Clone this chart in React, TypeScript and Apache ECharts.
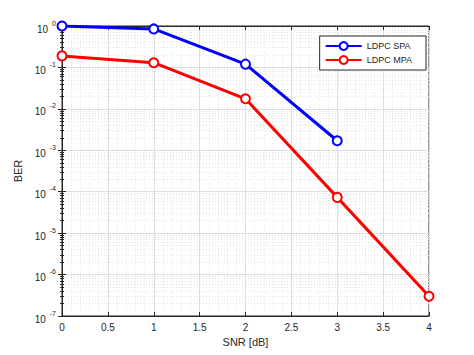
import React, { useEffect, useRef } from "react";
import * as echarts from "echarts";

const snr = [0, 1, 2, 3, 4];
const berSPA = [1.0, 0.85, 0.12, 0.0017];
const berMPA = [0.19, 0.13, 0.0175, 7.3e-5, 3.0e-7];
const seriesNames = ["LDPC SPA", "LDPC MPA"];

export default function App() {
  const ref = useRef<HTMLDivElement>(null);
  useEffect(() => {
    const chart = echarts.init(ref.current!, null, { renderer: "svg" });
    const txt = "#262626";
    const xBase = {
      type: "value",
      min: 0,
      max: 4,
      interval: 0.5,
      axisLine: { lineStyle: { color: txt } },
      axisTick: { inside: true, length: 4, lineStyle: { color: txt } },
    };
    const yBase = {
      type: "log",
      logBase: 10,
      min: 1e-7,
      max: 1,
      axisLine: { lineStyle: { color: txt } },
      axisTick: { inside: true, length: 4, lineStyle: { color: txt } },
      minorTick: { show: true, splitNumber: 9, length: 2, lineStyle: { color: txt } },
    };
    chart.setOption({
      animation: false,
      backgroundColor: "#fff",
      grid: {
        left: 62,
        right: 45,
        top: 26,
        bottom: 39,
        show: true,
        borderColor: "#262626",
        borderWidth: 1,
      },
      legend: {
        right: 48,
        top: 36,
        orient: "vertical",
        backgroundColor: "#fff",
        borderColor: "#262626",
        borderWidth: 1,
        padding: [5, 14, 5, 5],
        itemWidth: 36,
        itemHeight: 10,
        itemGap: 4,
        textStyle: { fontFamily: "Liberation Sans", fontSize: 9, color: txt },
        data: seriesNames,
      },
      xAxis: [
        {
          ...xBase,
          name: "SNR [dB]",
          nameLocation: "middle",
          nameGap: 19,
          nameTextStyle: { fontFamily: "Liberation Sans", fontSize: 11, color: txt },
          axisLabel: { fontFamily: "Liberation Sans", fontSize: 10, color: txt, margin: 6 },
          splitLine: { show: true, lineStyle: { color: "#dedede", width: 1 } },
          minorTick: { show: false, splitNumber: 5 },
          minorSplitLine: { show: true, lineStyle: { color: "#e4e4e4", type: [1, 2], width: 1 } },
        },
        {
          ...xBase,
          position: "top",
          axisLabel: { show: false },
          splitLine: { show: false },
        },
      ],
      yAxis: [
        {
          ...yBase,
          name: "BER",
          nameLocation: "middle",
          nameGap: 33,
          nameTextStyle: { fontFamily: "Liberation Sans", fontSize: 11, color: txt },
          minorSplitLine: { show: true, lineStyle: { color: "#e4e4e4", type: [1, 2], width: 1 } },
          splitLine: { show: true, lineStyle: { color: "#dedede", width: 1 } },
          axisLabel: {
            margin: 6,
            formatter: (v: number) => {
              const e = Math.round(Math.log10(v));
              return `{b|10}{e|${e}}`;
            },
            rich: {
              b: { fontFamily: "Liberation Sans", fontSize: 10, color: txt, padding: [6, 4, 0, 0] },
              e: { fontFamily: "Liberation Sans", fontSize: 7, color: txt, padding: [0, 0, 6, 0] },
            },
          },
        },
        {
          ...yBase,
          position: "right",
          axisLabel: { show: false },
          splitLine: { show: false },
        },
      ],
      series: [
        {
          name: seriesNames[0],
          type: "line",
          data: snr.slice(0, berSPA.length).map((x, i) => [x, berSPA[i]]),
          lineStyle: { color: "#0000ff", width: 3 },
          itemStyle: { color: "#0000ff", borderColor: "#0000ff", borderWidth: 2.5 },
          symbol: "emptyCircle",
          symbolSize: 9,
          z: 3,
        },
        {
          name: seriesNames[1],
          type: "line",
          data: snr.map((x, i) => [x, berMPA[i]]),
          lineStyle: { color: "#ff0000", width: 3 },
          itemStyle: { color: "#ff0000", borderColor: "#ff0000", borderWidth: 2.5 },
          symbol: "emptyCircle",
          symbolSize: 9,
          z: 3,
        },
      ],
    });
    return () => chart.dispose();
  }, []);
  return <div ref={ref} style={{ width: 474, height: 355, position: "absolute", left: 0, top: 0 }} />;
}
